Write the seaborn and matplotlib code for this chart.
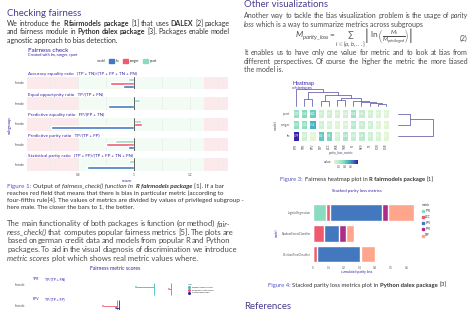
import matplotlib
matplotlib.use("Agg")
import matplotlib.pyplot as plt
import seaborn as sns
import numpy as np
import pandas as pd
from matplotlib.patches import Patch
from matplotlib.lines import Line2D
from matplotlib.colors import LinearSegmentedColormap

# ---------------- data ----------------
fc_metrics = ["Accuracy equality ratio", "Equal opportynity ratio", "Predictive equality ratio",
              "Predictive parity ratio", "Statistical parity ratio"]
fc_formulas = ["(TP + TN)/(TP + FP + TN + FN)", "TP/(TP + FN)", "FP/(FP + TN)",
               "TP/(TP + FP)", "(TP + FP)/(TP + FP + TN + FN)"]
fc_models = ["rpart", "ranger", "lm"]
fc_lm = [0.961, 0.910, 0.704, 0.981, 0.832]
fc_ranger = [0.915, 1.003, 1.029, 0.901, 0.999]
fc_rpart = [0.981, 1.023, 1.025, 0.933, 0.983]
fc_ticks = [0.8, 1.0, 1.2]
fc_ticklabels = ["0.8", "1", "1.2"]

hm_rows = ["rpart", "ranger", "lm"]
hm_cols = ["FPR", "TPR", "PPV", "STP", "ACC", "FNR", "TNR", "F1", "NPV", "TS", "FOR", "FDR"]
hm_rpart = [0.30, 0.36, 0.42, 0.12, 0.13, 0.10, 0.12, 0.28, 0.16, 0.11, 0.08, 0.06]
hm_ranger = [0.33, 0.32, 0.52, 0.11, 0.08, 0.07, 0.08, 0.21, 0.15, 0.12, 0.07, 0.05]
hm_lm = [0.79, 0.12, 0.05, 0.44, 0.38, 0.10, 0.24, 0.15, 0.19, 0.12, 0.09, 0.05]
# dendrogram merges (leaf/node a, leaf/node b, height)
col_links = [(1, 2, 0.42), (3, 4, 0.30), (10, 11, 0.10), (9, 14, 0.16), (8, 15, 0.22),
             (7, 16, 0.28), (5, 6, 0.33), (18, 17, 0.45), (13, 19, 0.62), (12, 20, 0.80),
             (0, 21, 1.0)]
row_links = [(0, 1, 0.35), (2, 3, 1.0)]

sp_models = ["LogisticRegression", "RandomForestClassifier", "DecisionTreeClassifier"]
sp_metrics = ["TPR", "ACC", "PPV", "FPR", "STP"]
sp_TPR = [0.085, 0.003, 0.0]
sp_ACC = [0.025, 0.067, 0.028]
sp_PPV = [0.330, 0.100, 0.272]
sp_FPR = [0.040, 0.045, 0.008]
sp_STP = [0.170, 0.050, 0.087]
sp_ticks = [0, 0.1, 0.2, 0.3, 0.4, 0.5, 0.6]

ms_metrics = ["TPR", "PPV"]
ms_formulas = ["TP/(TP + FN)", "TP/(TP + FP)"]
ms_labels = ["DecisionTreeClassifier", "RandomForestClassifier", "LogisticRegression"]
ms_row = ["TPR", "TPR", "PPV", "PPV"]
ms_model = ["DecisionTreeClassifier", "RandomForestClassifier", "RandomForestClassifier", "LogisticRegression"]
ms_female = [0.703, 0.916, 0.49, 0.575]
ms_male = [0.819, 0.927, 0.58, 0.594]

# ---------------- style ----------------
W, H = 474, 310
sns.set_theme(style="white")
plt.rcParams['font.family'] = ['Lato', 'DejaVu Sans']
plt.rcParams['mathtext.fontset'] = 'custom'
plt.rcParams['mathtext.rm'] = 'Lato'
plt.rcParams['mathtext.it'] = 'Lato:italic'
plt.rcParams['mathtext.bf'] = 'Lato:bold'

HEAD = "#4a3d8f"
TXT = "#333333"
TXT2 = "#4d4d4d"
FIGC = "#5656c8"
PURP = "#371ea3"
C_LM, C_RANGER, C_RPART = "#4378bf", "#f05a71", "#8bdcbe"

fig = plt.figure(figsize=(W / 100, H / 100), dpi=100)
fig.patch.set_facecolor("white")
renderer = fig.canvas.get_renderer()


def fx(px):
    return px / W


def fy(py):
    return 1 - py / H


def axes_px(l, t, w, h):
    return fig.add_axes([l / W, 1 - (t + h) / H, w / W, h / H])


STY = {'n': {}, 'b': {'fontweight': 'bold'}, 'i': {'fontstyle': 'italic'},
       'bi': {'fontweight': 'bold', 'fontstyle': 'italic'}, 'f': {'color': FIGC}}


def tokens_of(runs):
    tokens = []
    new = True
    for txt, st in runs:
        parts = txt.split(' ')
        for k, p in enumerate(parts):
            if k > 0:
                new = True
            if p:
                if new or not tokens:
                    tokens.append([(p, st)])
                else:
                    tokens[-1].append((p, st))
                new = False
    return tokens


def space_w(size):
    t1 = fig.text(0, 0, "a a", fontsize=size)
    t2 = fig.text(0, 0, "aa", fontsize=size)
    sp = t1.get_window_extent(renderer).width - t2.get_window_extent(renderer).width
    t1.remove()
    t2.remove()
    return sp


def run_layout(runs, size, color, y):
    """Create one text per run; return list of (text, offset) and total width."""
    sp = space_w(size)
    x = 0.0
    items = []
    for txt, st in runs:
        lead = len(txt) - len(txt.lstrip(' '))
        trail = len(txt) - len(txt.rstrip(' '))
        core = txt.strip(' ')
        x += lead * sp
        if core:
            kw = dict(color=color)
            kw.update(STY[st])
            t = fig.text(0, fy(y), core, fontsize=size, va='center', ha='left', **kw)
            items.append((t, x))
            x += t.get_window_extent(renderer).width
        x += trail * sp
    return items, x


def fit(runs, target):
    if isinstance(runs, str):
        runs = [(runs, 'n')]
    items, w = run_layout(runs, 10.0, 'k', 0)
    for t, _ in items:
        t.remove()
    return 10.0 * target / w


def text_line(x0, y, runs, size, color, width=None, ha='left'):
    if width is None:
        items, w = run_layout(runs, size, color, y)
        x = x0 - w / 2 if ha == 'center' else x0
        for t, off in items:
            t.set_x(fx(x + off))
        return
    tokens = tokens_of(runs)
    objs, widths = [], []
    for tok in tokens:
        tw = 0
        pieces = []
        for p, st in tok:
            kw = dict(color=color)
            kw.update(STY[st])
            t = fig.text(0, fy(y), p, fontsize=size, va='center', ha='left', **kw)
            w = t.get_window_extent(renderer).width
            pieces.append((t, tw))
            tw += w
        objs.append(pieces)
        widths.append(tw)
    sp = space_w(size)
    total = sum(widths)
    gap = max((width - total) / max(len(tokens) - 1, 1), sp * 0.6)
    x = x0
    for pieces, w in zip(objs, widths):
        for t, off in pieces:
            t.set_x(fx(x + off))
        x += w + gap


# ---------------- left column text ----------------
S_HEAD = fit("Checking fairness", 74)
fig.text(fx(7), fy(14), "Checking fairness", fontsize=S_HEAD, color=HEAD, va='center')
LW = 223
tl3 = [("agnostic approach to bias detection.", 'n')]
S_TL = fit(tl3, 112)
text_line(7, 23.3, [("We introduce the ", 'n'), ("R fairmodels package", 'b'), (" [1] that uses ", 'n'),
                    ("DALEX", 'b'), (" [2] package", 'n')], S_TL, TXT, LW)
text_line(7, 31.8, [("and fairness module in ", 'n'), ("Python dalex package", 'b'),
                    (" [3]. Packages enable model", 'n')], S_TL, TXT, LW)
text_line(7, 40.2, tl3, S_TL, TXT)

c12 = [("reaches red field that means that there is bias in particular metric (according to", 'n')]
S_C1 = fit(c12, 214)
text_line(7, 186.7, [("Figure 1:", 'f'), (" Output of ", 'n'), ("fairness_check() function in", 'i'), (" ", 'n'),
                     ("R fairmodels package", 'bi'), (" [1]. If a bar", 'n')], S_C1, TXT)
text_line(7, 193.6, c12, S_C1, TXT)
text_line(7, 200.4, [("four-fifths rule[4]. The values of metrics are divided by values of privileged subgroup -", 'n')],
          S_C1, TXT)
text_line(7, 207.2, [("here male. The closer the bars to 1, the better.", 'n')], S_C1, TXT)

m5 = [("metric scores", 'i'), (" plot which shows real metric values where.", 'n')]
S_M = fit(m5, 190)
text_line(7, 223.3, [("The main functionality of both packages is function (or method) ", 'n'), ("fair-", 'i')],
          S_M, TXT2, LW)
text_line(7, 232.1, [("ness_check()", 'i'), (" that computes popular fairness metrics [5]. The plots are", 'n')],
          S_M, TXT2, LW)
text_line(7, 240.9, [("based on german credit data and models from popular R and Python", 'n')], S_M, TXT2, LW)
text_line(7, 249.7, [("packages. To aid in the visual diagnosis of discrimination we introduce", 'n')],
          S_M, TXT2, LW)
text_line(7, 258.4, m5, S_M, TXT2)

# ---------------- right column text ----------------
fig.text(fx(244), fy(4.5), "Other visualizations", fontsize=S_HEAD, color=HEAD, va='center')
RW = 224
r2 = [("loss", 'i'), (" which is a way to summarize metrics across subgroups", 'n')]
S_R = fit(r2, 181)
text_line(244, 15.2, [("Another way to tackle the bias visualization problem is the usage of ", 'n'),
                      ("parity", 'i')], S_R, TXT2, RW)
text_line(244, 24.4, r2, S_R, TXT2)
formula = r"$M_{parity\_loss} = \sum_{i \in \{a,b,...\}} \left|\ \ln\left(\frac{M_i}{M_{privileged}}\right)\right|$"
S_F = min(fit(formula, 118), S_R * 1.25)
fig.text(fx(354), fy(38), formula, fontsize=S_F, color=TXT2, ha='center', va='center')
fig.text(fx(467), fy(38), "(2)", fontsize=S_R, color=TXT2, ha='right', va='center')
text_line(244, 52.7, [("It enables us to have only one value for metric and to look at bias from", 'n')],
          S_R, TXT2, RW)
text_line(244, 61.3, [("different perspectives. Of course the higher the metric the more biased", 'n')],
          S_R, TXT2, RW)
text_line(244, 70.0, [("the model is.", 'n')], S_R, TXT2)

f4 = [("Figure 4:", 'f'), (" Stacked parity loss metrics plot in ", 'n'),
      ("Python dalex package", 'b'), (" [3]", 'n')]
S_CAP = fit(f4, 179)
text_line(357, 180, [("Figure 3:", 'f'), (" Fairness heatmap plot in ", 'n'), ("R fairmodels package", 'b'),
                     (" [1]", 'n')], S_CAP, TXT, ha='center')
text_line(357, 285, f4, S_CAP, TXT, ha='center')
fig.text(fx(244), fy(302), "References", fontsize=S_HEAD, color=HEAD, va='top')

# ---------------- Fairness check ----------------
fig.text(fx(28), fy(50), "Fairness check", fontsize=fit("Fairness check", 40), color=PURP, va='center')
fig.text(fx(28), fy(54.6), "Created with lm, ranger, rpart", fontsize=fit("Created with lm, ranger, rpart", 51),
         color=PURP, va='center')
S_SM = fit("female", 10)
fig.text(fx(97), fy(61), "model", fontsize=S_SM, color="#444", va='center')
fig.legend(handles=[Patch(color=C_LM), Patch(color=C_RANGER), Patch(color=C_RPART)],
           labels=["lm", "ranger", "rpart"], ncol=3, loc='center left',
           bbox_to_anchor=(fx(108.5), fy(61)), frameon=False, fontsize=S_SM,
           handlelength=1.5, handleheight=1.5, handletextpad=0.5, columnspacing=1.2,
           borderpad=0, borderaxespad=0)

S_STRIP = fit("Accuracy equality ratio", 45)
lo, hi = 0.619, 1.337
panel_tops = [76.7, 97.3, 118.0, 138.3, 158.3]
for i, top in enumerate(panel_tops):
    ax = axes_px(27, top, 201, 12.7)
    ax.axvspan(lo, 0.8, color='#fce9eb', lw=0)
    ax.axvspan(0.8, 1.25, color='#f3fbf5', lw=0)
    ax.axvspan(1.25, hi, color='#fce9eb', lw=0)
    for g in np.arange(0.7, 1.31, 0.1):
        ax.axvline(g, color='#e9ecea', lw=0.5, zorder=1)
    vals = [fc_rpart[i], fc_ranger[i], fc_lm[i]]
    ax.barh([0, 1, 2], [v - 1 for v in vals], left=1, height=0.98,
            color=[C_RPART, C_RANGER, C_LM], zorder=2)
    ax.axvline(1, color='#222222', lw=0.5, zorder=3)
    ax.set_xlim(lo, hi)
    ax.set_ylim(3.04, -1.04)
    ax.set_yticks([])
    for s in ax.spines.values():
        s.set_visible(False)
    if i == len(panel_tops) - 1:
        ax.set_xticks(fc_ticks)
        ax.set_xticklabels(fc_ticklabels, fontsize=fit("0.8", 4.5), color='#555')
        ax.tick_params(axis='x', length=0, pad=1.8)
    else:
        ax.set_xticks([])
    fig.text(fx(28), fy(top - 2.8), fc_metrics[i] + "   " + fc_formulas[i], fontsize=S_STRIP,
             color=PURP, va='center')
    fig.text(fx(20), fy(top + 6.35), "female", fontsize=S_SM, color='#555', va='center', ha='center')
fig.text(fx(9.5), fy(125), "subgroup", fontsize=fit("subgroup", 18), color=PURP, va='center', ha='center',
         rotation=90)
fig.text(fx(127), fy(181), "score", fontsize=fit("subgroup", 18), color=PURP, va='center', ha='center')

# ---------------- Fairness metric scores ----------------
fig.text(fx(115), fy(268), "Fairness metric scores", fontsize=fit("Fairness metric scores", 50),
         color=PURP, va='center', ha='center')
ms_pal = {"DecisionTreeClassifier": "#46bac2", "RandomForestClassifier": C_RANGER,
          "LogisticRegression": "#371ea3"}
axm = axes_px(27, 276, 155, 40)
ms_df = pd.DataFrame({"row": [ms_metrics.index(r) for r in ms_row], "model": ms_model,
                      "female": ms_female, "male": ms_male})
ms_df["ypos"] = ms_df["row"] + ms_df["model"].map({"DecisionTreeClassifier": -0.12,
                                                    "RandomForestClassifier": 0.0,
                                                    "LogisticRegression": 0.12})
for _, r in ms_df.iterrows():
    c = ms_pal[r["model"]]
    axm.hlines(r["ypos"], r["female"], r["male"], color=c, lw=0.6)
    axm.vlines(r["male"], r["row"] - 0.35, r["row"] + 0.35, color=c, lw=0.6)
sns.scatterplot(data=ms_df, x="female", y="ypos", hue="model", palette=ms_pal, s=1.5,
                linewidth=0, ax=axm, legend=False)
axm.set_xlim(0, 1)
axm.set_ylim(1.588, -0.765)
axm.axis('off')
S_MS = fit("TP/(TP + FN)", 20)
for j, (m, f) in enumerate(zip(ms_metrics, ms_formulas)):
    fig.text(fx(33), fy(279 + 20 * j), m, fontsize=S_MS, color=PURP, va='center')
    fig.text(fx(45), fy(279 + 20 * j), f, fontsize=S_MS, color=PURP, va='center')
    fig.text(fx(20), fy(285.5 + 20.5 * j), "female", fontsize=S_MS, color='#555', va='center', ha='center')
S_LEG = fit("RandomForestClassifier", 23)
fig.legend(handles=[Line2D([], [], marker='o', ls='', color=ms_pal[l], markersize=1.2) for l in ms_labels],
           labels=ms_labels, loc='upper left', bbox_to_anchor=(fx(187), fy(283)), title="label",
           fontsize=S_LEG, title_fontsize=S_LEG, frameon=False, alignment='left', borderpad=0,
           labelspacing=0.55, handletextpad=0.6, handlelength=1.0)

# ---------------- Heatmap ----------------
fig.text(fx(292.5), fy(83), "Heatmap", fontsize=fit("Heatmap", 22), color=PURP, va='center')
fig.text(fx(292.5), fy(87.5), "with dendrograms", fontsize=fit("with dendrograms", 20), color=PURP,
         va='center')
hm_df = pd.DataFrame([hm_rpart, hm_ranger, hm_lm], index=hm_rows, columns=hm_cols)
cmap = LinearSegmentedColormap.from_list("fm", ["#e2f6d5", "#b6ead0", "#8bdcbe", "#46bac2", "#4378bf", "#371ea3"])
axh = axes_px(292, 108, 98, 33.5)
cax = axes_px(334, 160, 23.5, 3.6)
sns.heatmap(hm_df, ax=axh, cmap=cmap, vmin=0.05, vmax=0.8, linewidths=0.8, linecolor='white',
            annot=True, fmt=".2f", annot_kws={'size': 1.9, 'color': 'white'},
            xticklabels=hm_cols, yticklabels=hm_rows,
            cbar_ax=cax, cbar_kws={'orientation': 'horizontal', 'ticks': [0.2, 0.4, 0.6]})
S_HT = fit("rpart", 7)
axh.tick_params(axis='y', labelsize=S_HT, labelcolor='#555', rotation=0)
axh.tick_params(axis='x', labelsize=S_HT * 0.9, labelcolor='#555', rotation=90)
axh.tick_params(length=0, pad=1.5)
axh.set_xlabel("parity_loss_metric", fontsize=fit("parity_loss_metric", 25), color='#4b4b70', labelpad=1.2)
axh.set_ylabel("model", fontsize=S_HT * 1.1, color='#4b4b70', labelpad=2)
cax.tick_params(labelsize=S_HT * 0.85, length=0, pad=0.8, colors='#555')
for s in cax.spines.values():
    s.set_visible(False)
fig.text(fx(332), fy(162), "value", fontsize=S_HT, color='#444', va='center', ha='right')


def draw_dendro(ax, links, n, orient):
    pos = {i: i + 0.5 for i in range(n)}
    hgt = {i: 0.0 for i in range(n)}
    node = n
    for a, b, h in links:
        xa, xb = pos[a], pos[b]
        if orient == 'top':
            ax.plot([xa, xa, xb, xb], [hgt[a], h, h, hgt[b]], color='#5f5ba8', lw=0.55)
        else:
            ax.plot([hgt[a], h, h, hgt[b]], [xa, xa, xb, xb], color='#5f5ba8', lw=0.55)
        pos[node] = (xa + xb) / 2
        hgt[node] = h
        node += 1
    ax.axis('off')


axd = axes_px(292, 88.5, 98, 18)
draw_dendro(axd, col_links, len(hm_cols), 'top')
axd.set_xlim(0, len(hm_cols))
axd.set_ylim(-0.02, 1.02)
axr = axes_px(397, 108, 37, 33.5)
draw_dendro(axr, row_links, len(hm_rows), 'right')
axr.set_xlim(-0.02, 1.02)
axr.set_ylim(len(hm_rows), 0)

# ---------------- Stacked parity loss ----------------
fig.text(fx(357), fy(191), "Stacked parity loss metrics", fontsize=fit("Stacked parity loss metrics", 50),
         color=PURP, va='center', ha='center')
sp_cols = {"TPR": "#8bdcbe", "ACC": "#f05a71", "PPV": "#4378bf", "FPR": "#ae2c87", "STP": "#ffa58c"}
sp_df = pd.DataFrame({"model": sp_models, "TPR": sp_TPR, "ACC": sp_ACC, "PPV": sp_PPV,
                      "FPR": sp_FPR, "STP": sp_STP})
cum = sp_df[sp_metrics].cumsum(axis=1)
cum["model"] = sp_models
axs = axes_px(312.7, 202, 106.4, 62.5)
for m in reversed(sp_metrics):
    sns.barplot(data=cum, x=m, y="model", color=sp_cols[m], orient='h', width=0.8,
                saturation=1, errorbar=None, ax=axs, order=sp_models)
S_SPT = fit("LogisticRegression", 22)
axs.set_xlim(0, 0.68)
axs.set_ylim(2.5, -0.5)
axs.set_xticks(sp_ticks)
axs.set_xticklabels([("%g" % t) for t in sp_ticks], fontsize=S_SPT, color='#555')
axs.set_yticks(range(len(sp_models)))
axs.set_yticklabels(sp_models, fontsize=S_SPT, color='#555')
axs.tick_params(length=0, pad=1.2)
axs.set_xlabel("")
axs.set_ylabel("")
for s in axs.spines.values():
    s.set_visible(False)
fig.text(fx(357), fy(272), "cumulated parity loss", fontsize=fit("cumulated parity loss", 31), color=PURP,
         va='center', ha='center')
fig.text(fx(276.5), fy(233), "model", fontsize=S_SPT * 1.1, color=PURP, va='center', ha='center', rotation=90)
fig.legend(handles=[Line2D([], [], marker='s', ls='', color=sp_cols[m], markersize=1.6) for m in sp_metrics],
           labels=sp_metrics, loc='upper left', bbox_to_anchor=(fx(420.5), fy(202)), title="metric",
           fontsize=S_SPT, title_fontsize=S_SPT, frameon=False, alignment='left', borderpad=0,
           labelspacing=0.75, handletextpad=0.3, handlelength=1.0)

fig.savefig("out.png", dpi=100, facecolor="white")
